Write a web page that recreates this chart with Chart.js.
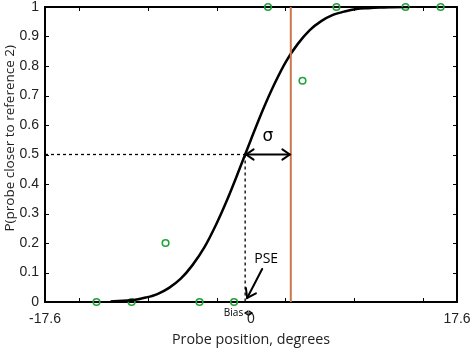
<!DOCTYPE html>
<html>
<head>
<meta charset="utf-8">
<script src="https://cdn.jsdelivr.net/npm/chart.js@4.4.1/dist/chart.umd.min.js"></script>
<style>
  body { margin: 0; background: #fff; }
  canvas { display: block; }
</style>
</head>
<body>
<canvas id="grafico" width="474" height="352"></canvas>
<script>
// ====== DADOS ======
const xTickLabels = [-17.6, 0, 17.6];
const xMinorTicks = [-14.67, -8.8, -2.93, 2.93, 8.8, 14.67];
const yTicks = [0, 0.1, 0.2, 0.3, 0.4, 0.5, 0.6, 0.7, 0.8, 0.9, 1];

// respostas medidas (circulos verdes)
const probeX = [-13.2, -10.2, -7.3, -4.4, -1.45, 1.45, 4.4, 7.3, 13.2, 16.2];
const probeP = [0, 0, 0.2, 0, 0, 1, 0.75, 1, 1, 1];

// curva ajustada
const curveX = [-12, -10, -9, -8, -7, -6, -5, -4, -3, -2, -1, 0, 1, 2, 3, 4, 5, 6, 7, 8, 9, 10, 11, 12, 13.5];
const curveP = [0.002, 0.007, 0.015, 0.027, 0.048, 0.079, 0.125, 0.184, 0.261, 0.35, 0.449, 0.551, 0.65, 0.739, 0.816, 0.875, 0.921, 0.952, 0.973, 0.985, 0.993, 0.996, 0.998, 0.999, 1];

const pse = -0.5;
const sigmaEdge = 3.4;
const halfP = 0.5;

const tituloY = "P(probe closer to reference 2)";

const ctx = document.getElementById("grafico").getContext("2d");

// ====== DESENHOS EXTRA ======
function seta(c, x1, y1, x2, y2, tam) {
  const a = Math.atan2(y2 - y1, x2 - x1);
  c.beginPath();
  c.moveTo(x2 - tam * Math.cos(a - 0.6), y2 - tam * Math.sin(a - 0.6));
  c.lineTo(x2, y2);
  c.lineTo(x2 - tam * Math.cos(a + 0.6), y2 - tam * Math.sin(a + 0.6));
  c.stroke();
}

const moldura = {
  id: "moldura",
  beforeDatasetsDraw(chart) {
    const c = chart.ctx;
    const { left, right, top, bottom } = chart.chartArea;
    const x = chart.scales.x, y = chart.scales.y;
    c.save();
    c.strokeStyle = "#000";
    c.lineWidth = 1;
    c.beginPath();
    xMinorTicks.forEach(v => {
      const px = Math.round(x.getPixelForValue(v)) + 0.5;
      c.moveTo(px, bottom); c.lineTo(px, bottom - 4);
      c.moveTo(px, top); c.lineTo(px, top + 4);
    });
    yTicks.forEach(v => {
      const py = Math.round(y.getPixelForValue(v)) + 0.5;
      c.moveTo(left, py); c.lineTo(left + 4, py);
      c.moveTo(right, py); c.lineTo(right - 4, py);
    });
    c.stroke();
    c.lineWidth = 2;
    c.strokeRect(left, top, right - left, bottom - top);

    // titulo do eixo y
    c.fillStyle = "#222";
    c.font = "13.5px 'Open Sans'";
    c.textAlign = "center";
    c.textBaseline = "middle";
    c.translate(10, y.getPixelForValue(0.555));
    c.rotate(-Math.PI / 2);
    c.fillText(tituloY, 0, 0);
    c.restore();
  },
  afterDatasetsDraw(chart) {
    const c = chart.ctx;
    const x = chart.scales.x, y = chart.scales.y;
    const xp = x.getPixelForValue(pse);
    const xs = x.getPixelForValue(sigmaEdge);
    const yh = y.getPixelForValue(halfP);
    const y0 = y.getPixelForValue(0);
    c.save();
    c.strokeStyle = "#000";
    c.fillStyle = "#000";
    c.lineCap = "round";

    // sigma
    c.lineWidth = 2;
    c.beginPath();
    c.moveTo(xp + 1, yh); c.lineTo(xs - 1, yh);
    c.stroke();
    seta(c, xs, yh, xp + 1, yh, 9);
    seta(c, xp, yh, xs - 1, yh, 9);
    c.font = "17px 'DejaVu Sans'";
    c.textAlign = "center";
    c.textBaseline = "middle";
    c.fillText("σ", (xp + xs) / 2, yh - 18);

    // PSE
    c.font = "14px 'Open Sans'";
    c.fillText("PSE", xp + 21, y0 - 43);
    c.beginPath();
    c.moveTo(xp + 17, y0 - 33); c.lineTo(xp + 2, y0 - 4);
    c.stroke();
    seta(c, xp + 17, y0 - 33, xp + 2, y0 - 4, 10);

    // Bias
    c.font = "10px 'Open Sans'";
    c.textAlign = "right";
    c.fillText("Bias", xp - 2, y0 + 11);
    const x0 = x.getPixelForValue(0);
    c.lineWidth = 1.2;
    c.beginPath();
    c.moveTo(xp, y0 + 11); c.lineTo(x0 + 1, y0 + 11);
    c.stroke();
    seta(c, xp, y0 + 11, x0 + 1, y0 + 11, 3.5);
    seta(c, x0 + 1, y0 + 11, xp, y0 + 11, 3.5);
    c.restore();
  }
};

// ====== GRAFICO ======
new Chart(ctx, {
  type: "scatter",
  data: {
    datasets: [
      {
        label: "PSE h",
        type: "line",
        data: [{ x: -17.6, y: halfP }, { x: pse, y: halfP }],
        borderColor: "#000",
        borderWidth: 1.3,
        borderDash: [3, 3],
        pointRadius: 0
      },
      {
        label: "PSE v",
        type: "line",
        data: [{ x: pse, y: halfP }, { x: pse, y: 0 }],
        borderColor: "#000",
        borderWidth: 1.3,
        borderDash: [3, 3],
        pointRadius: 0
      },
      {
        label: "sigma",
        type: "line",
        data: [{ x: sigmaEdge, y: 0 }, { x: sigmaEdge, y: 1 }],
        borderColor: "#c9784a",
        borderWidth: 2,
        pointRadius: 0
      },
      {
        label: "curva",
        type: "line",
        data: curveX.map((v, i) => ({ x: v, y: curveP[i] })),
        borderColor: "#000",
        borderWidth: 2.5,
        pointRadius: 0,
        cubicInterpolationMode: "monotone"
      },
      {
        label: "respostas",
        data: probeX.map((v, i) => ({ x: v, y: probeP[i] })),
        borderColor: "#1fa33a",
        backgroundColor: "rgba(0,0,0,0)",
        borderWidth: 1.6,
        pointRadius: 3.3,
        clip: false
      }
    ]
  },
  options: {
    responsive: false,
    animation: false,
    layout: { padding: { top: 7, right: 17 } },
    plugins: { legend: { display: false }, tooltip: { enabled: false } },
    scales: {
      x: {
        type: "linear",
        min: -17.6,
        max: 17.6,
        afterBuildTicks: s => { s.ticks = xTickLabels.map(v => ({ value: v })); },
        afterFit: s => { s.height = 50; s.paddingLeft = 0; s.paddingRight = 0; },
        grid: { display: false, drawTicks: false },
        border: { display: false },
        ticks: {
          padding: 9,
          color: "#222",
          font: { family: "'Liberation Sans'", size: 14 },
          callback: v => String(v),
          maxRotation: 0
        },
        title: {
          display: true,
          text: "Probe position, degrees",
          color: "#222",
          font: { family: "'Open Sans'", size: 14.3 },
          padding: { top: 0, bottom: 3 }
        }
      },
      y: {
        min: 0,
        max: 1,
        afterBuildTicks: s => { s.ticks = yTicks.map(v => ({ value: v })); },
        afterFit: s => { s.width = 45; s.paddingTop = 0; s.paddingBottom = 0; },
        grid: { display: false, drawTicks: false },
        border: { display: false },
        ticks: {
          padding: 6,
          color: "#222",
          font: { family: "'Liberation Sans'", size: 14 },
          callback: v => String(Math.round(v * 10) / 10)
        }
      }
    }
  },
  plugins: [moldura]
});
</script>
</body>
</html>
